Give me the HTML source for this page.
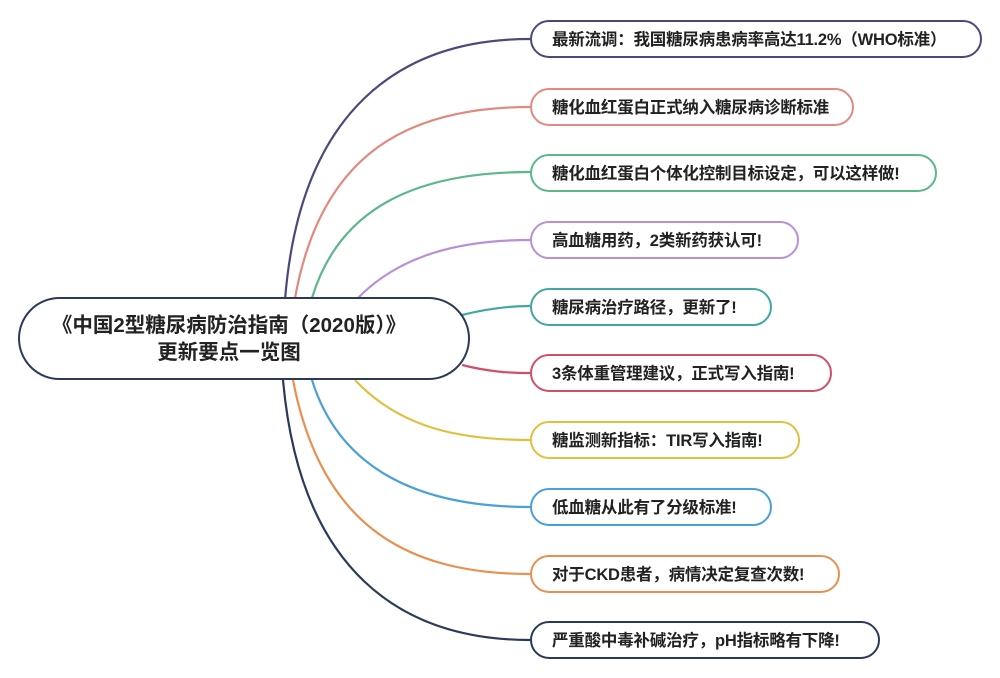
<!DOCTYPE html>
<html><head><meta charset="utf-8"><style>
body{margin:0;background:#fff;}
.w{position:relative;width:1000px;height:678px;overflow:hidden;font-family:"Liberation Sans","Noto Sans CJK SC",sans-serif;}
.n{position:absolute;left:530px;height:34px;border:2px solid;border-radius:19px;background:#fff;box-sizing:content-box;font-size:16.5px;font-weight:bold;color:#222;line-height:36px;padding-left:20px;white-space:nowrap;letter-spacing:-0.2px;}
.c{position:absolute;left:18px;top:297px;width:418px;padding-right:30px;border:2.5px solid #2b3a55;border-radius:42px;background:#fff;text-align:center;font-size:20.5px;font-weight:bold;color:#222;line-height:27px;padding-top:13px;box-sizing:content-box;height:66px;}
</style></head><body><div class="w">
<svg width="1000" height="678" style="position:absolute;left:0;top:0" fill="none" stroke-width="2.2">
<path d="M285,300 C300,110 400,39 530,39" stroke="#4a4a7a"/>
<path d="M295,298 C320,160 400,107 530,107" stroke="#e08a80"/>
<path d="M312,298 C340,205 420,172 530,172" stroke="#5cb88a"/>
<path d="M358,298 C400,255 460,240 530,240" stroke="#b890d8"/>
<path d="M462,315 C490,308 510,306 530,306" stroke="#40a8a0"/>
<path d="M462,365 C490,372 510,373 530,373" stroke="#d0506a"/>
<path d="M355,380 C400,428 460,440 530,440" stroke="#e0c040"/>
<path d="M312,380 C340,470 420,507 530,507" stroke="#4aa0d8"/>
<path d="M293,380 C320,520 400,574 530,574" stroke="#e89050"/>
<path d="M283,380 C300,570 400,640 530,640" stroke="#2a3a5a"/>
</svg>
<div class="c">《中国2型糖尿病防治指南（2020版）》<br>更新要点一览图</div>
<div class="n" style="top:20px;width:428px;border-color:#4a4a7a">最新流调：我国糖尿病患病率高达11.2%（WHO标准）</div>
<div class="n" style="top:88px;width:300px;border-color:#e08a80">糖化血红蛋白正式纳入糖尿病诊断标准</div>
<div class="n" style="top:154px;width:383px;border-color:#5cb88a">糖化血红蛋白个体化控制目标设定，可以这样做!</div>
<div class="n" style="top:221px;width:245px;border-color:#b890d8">高血糖用药，2类新药获认可!</div>
<div class="n" style="top:288px;width:218px;border-color:#40a8a0">糖尿病治疗路径，更新了!</div>
<div class="n" style="top:354px;width:278px;border-color:#d0506a">3条体重管理建议，正式写入指南!</div>
<div class="n" style="top:421px;width:246px;border-color:#e0c040">糖监测新指标：TIR写入指南!</div>
<div class="n" style="top:488px;width:218px;border-color:#4aa0d8">低血糖从此有了分级标准!</div>
<div class="n" style="top:555px;width:286px;border-color:#e89050">对于CKD患者，病情决定复查次数!</div>
<div class="n" style="top:621px;width:326px;border-color:#2a3a5a">严重酸中毒补碱治疗，pH指标略有下降!</div>
</div></body></html>
